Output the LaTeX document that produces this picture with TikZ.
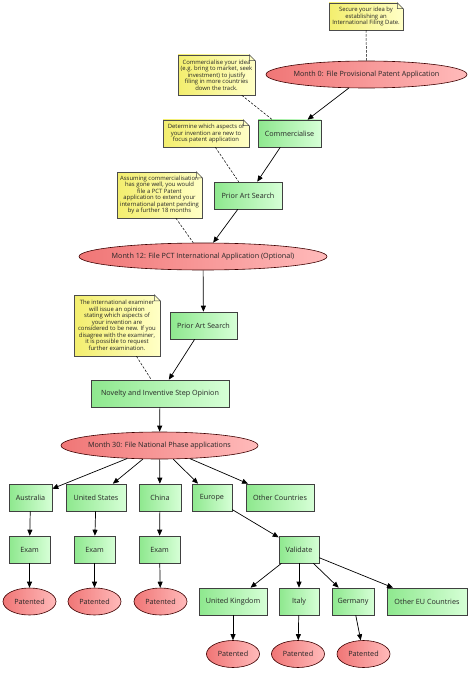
\documentclass[tikz,border=0pt]{standalone}
\usepackage{fontspec}
\setmainfont{Open Sans}
\usetikzlibrary{shapes.geometric,arrows.meta}

\definecolor{boxleft}{HTML}{8EE88E}
\definecolor{boxright}{HTML}{D6FFD6}
\definecolor{stageleft}{HTML}{F07676}
\definecolor{stageright}{HTML}{FFBABA}
\definecolor{noteleft}{HTML}{F3EE6E}
\definecolor{noteright}{HTML}{FFFFC6}

\newcommand{\notefold}[1]{
    \fill[white] ([xshift=0.6pt,yshift=0.6pt]#1.north east) -- ++(-7,0) -- ++(7,7) -- cycle;
    \draw[black!70, line width=0.5pt, fill=noteright]
        (#1.north east) ++(-6,0) -- ++(0,6) -- ++(6,0) -- cycle;
}
\tikzset{x=1pt, y=-1pt, >={Triangle[length=6pt,width=5pt]},
    every node/.append style={font=\fontsize{7.2}{8.5}\selectfont, text=black!85},
    box/.style={draw=black!75, line width=0.6pt, left color=boxleft, right color=boxright,
        minimum height=27pt, inner sep=0pt},
    stage/.style={ellipse, draw=black!60!red!60!black, line width=0.6pt,
        left color=stageleft, right color=stageright, minimum height=27pt, inner sep=0pt,
        execute at begin node={\hbox to 0pt\bgroup\hss}, execute at end node={\hss\egroup}},
    note/.style={draw=black!70, line width=0.5pt, left color=noteleft, right color=noteright,
        align=center, inner sep=1pt, font=\fontsize{5.9}{6.5}\selectfont},
    link/.style={line width=0.7pt, ->},
    hint/.style={line width=0.5pt, dash pattern=on 2.5pt off 1.5pt}}

\begin{document}
\begin{tikzpicture}
                \useasboundingbox (0,0) rectangle (474,674);
                \node[note, minimum width=74pt, minimum height=27pt] (n1) at (366,16.5)
                    {Secure your idea by\\establishing an\\International Filing Date.};
                \node[note, minimum width=77pt, minimum height=40pt] (n2) at (216.5,75)
                    {Commercialise your idea\\(e.g. bring to market, seek\\investment) to justify\\filing in more countries\\down the track.};
                \node[note, minimum width=86pt, minimum height=27pt] (n3) at (206,133.5)
                    {Determine which aspects of\\your invention are new to\\focus patent application};
                \node[note, minimum width=85pt, minimum height=46pt] (n4) at (159.5,195)
                    {Assuming commercialisation\\has gone well, you would\\file a PCT Patent\\application to extend your\\international patent pending\\by a further 18 months};
                \node[note, minimum width=86pt, minimum height=61pt] (n5) at (117,325.5)
                    {The international examiner\\will issue an opinion\\stating which aspects of\\your invention are\\considered to be new. If you\\disagree with the examiner,\\it is possible to request\\further examination.};
                \foreach \n in {n1,n2,n3,n4,n5}
                    {\notefold{\n}}

                \node[stage, minimum width=201pt] (m0) at (366.5,74.5) {Month 0: File Provisional Patent Application};
                \node[box, minimum width=63pt] (com) at (289.5,133.5) {Commercialise};
                \node[box, minimum width=68pt] (pas1) at (248,195.5) {Prior Art Search};
                \node[stage, minimum width=248pt] (m12) at (203,256.5) {Month 12: File PCT International Application (Optional)};
                \node[box, minimum width=67pt] (pas2) at (203.5,325.5) {Prior Art Search};
                \node[box, minimum width=138pt] (nov) at (160,393.5) {Novelty and Inventive Step Opinion};
                \node[stage, minimum width=197pt] (m30) at (159.5,445.5) {Month 30: File National Phase applications};

                \node[box, minimum width=43pt] (aus) at (30.5,497.5) {Australia};
                \node[box, minimum width=60pt] (usa) at (96,497.5) {United States};
                \node[box, minimum width=42pt] (chn) at (160,497.5) {China};
                \node[box, minimum width=40pt] (eur) at (212,497.5) {Europe};
                \node[box, minimum width=68pt] (oth) at (280,497.5) {Other Countries};

                \node[box, minimum width=41pt] (ex1) at (29.5,549.5) {Exam};
                \node[box, minimum width=41pt] (ex2) at (94.5,549.5) {Exam};
                \node[box, minimum width=41pt] (ex3) at (159.5,549.5) {Exam};
                \node[box, minimum width=40pt] (val) at (299,549.5) {Validate};

                \node[stage, minimum width=53pt] (pat1) at (29.5,601.5) {Patented};
                \node[stage, minimum width=53pt] (pat2) at (94.5,601.5) {Patented};
                \node[stage, minimum width=53pt] (pat3) at (160.5,601.5) {Patented};
                \node[box, minimum width=68pt] (uk) at (233,601.5) {United Kingdom};
                \node[box, minimum width=40pt] (ita) at (299,601.5) {Italy};
                \node[box, minimum width=42pt] (ger) at (353,601.5) {Germany};
                \node[box, minimum width=80pt] (oeu) at (427,601.5) {Other EU Countries};

                \node[stage, minimum width=53pt] (pat4) at (233,654) {Patented};
                \node[stage, minimum width=53pt] (pat5) at (298,654) {Patented};
                \node[stage, minimum width=53pt] (pat6) at (363.5,654) {Patented};

                \foreach \a/\b in {n1/m0, n2/com, n3/pas1, n4/m12, n5/nov}
                    {\draw[hint] (\a) -- (\b);}
                \foreach \a/\b in {m0/com, com/pas1, pas1/m12, m12/pas2, pas2/nov, nov/m30,
                        m30/aus, m30/usa, m30/chn, m30/eur, m30/oth,
                        aus/ex1, usa/ex2, chn/ex3, ex1/pat1, ex2/pat2, ex3/pat3,
                        eur/val, val/uk, val/ita, val/ger, val/oeu,
                        uk/pat4, ita/pat5, ger/pat6}
                    {\draw[link] (\a) -- (\b);}
            \end{tikzpicture}
\end{document}
